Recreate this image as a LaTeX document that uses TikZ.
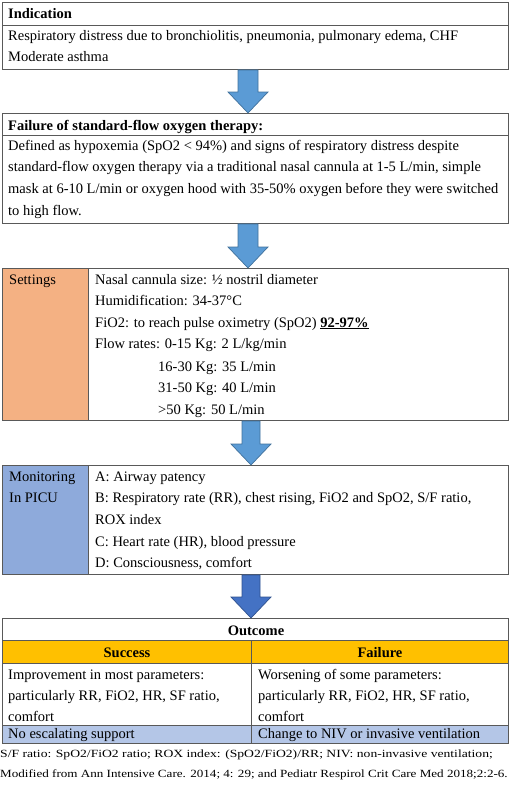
\documentclass[tikz,border=0pt]{standalone}
\usepackage{fontspec}
\usepackage{graphicx}
\setmainfont{Liberation Serif}
\usetikzlibrary{calc}
\definecolor{bordc}{HTML}{595959}
\definecolor{arrfill}{HTML}{5B9BD5}
\definecolor{arrdraw}{HTML}{41719C}
\definecolor{arrbfill}{HTML}{4472C4}
\definecolor{arrbdraw}{HTML}{2F528F}
\definecolor{orangec}{HTML}{F4B183}
\definecolor{monc}{HTML}{8EAADB}
\definecolor{yelc}{HTML}{FFC000}
\definecolor{lbluec}{HTML}{B4C6E7}
\newcommand\flowarrow[5]{% from, to, x centre, shaft half width, style
  \draw[#5] let \p1=(#1.south), \p2=(#2.north) in
    ({#3pt-#4pt},{\y1}) -- ({#3pt+#4pt},{\y1}) -- ({#3pt+#4pt},{\y2+21pt})
    -- ({#3pt+20pt},{\y2+21pt}) -- ({#3pt},{\y2}) -- ({#3pt-20pt},{\y2+21pt})
    -- ({#3pt-#4pt},{\y2+21pt}) -- cycle;}
\begin{document}
\begin{tikzpicture}[x=1pt,y=-1pt,
  frame/.style={draw=bordc, line width=0.9pt, inner sep=0, anchor=north west, minimum width=506pt},
  rule/.style={draw=bordc, line width=0.9pt},
  txt/.style={anchor=base west, inner sep=0, font=\fontsize{14.5}{21.6}\selectfont, align=left},
  ctxt/.style={anchor=base, inner sep=0, font=\fontsize{14.5}{21.6}\selectfont\bfseries},
  note/.style={anchor=base west, inner sep=0, font=\fontsize{11}{20}\selectfont},
  arrA/.style={fill=arrfill, draw=arrdraw, line width=0.7pt},
  arrB/.style={fill=arrbfill, draw=arrbdraw, line width=0.7pt}]
\useasboundingbox (0,0) rectangle (510,793);

% ---- Indication (multi-line nodes are placed by their last baseline)
\node[frame, minimum height=67pt] (ind) at (2,2) {};
\draw[rule] (2,25) -- (508,25);
\node[txt, font=\fontsize{14.5}{21.5}\selectfont\bfseries] (indh) at (8,18) {Indication};
\node[txt, font=\fontsize{14.5}{21.5}\selectfont] (indt) at (8,61.5) {Respiratory distress due to bronchiolitis, pneumonia, pulmonary edema, CHF\\Moderate asthma};

% ---- Failure
\node[frame, minimum height=110pt] (fail) at (2,113) {};
\draw[rule] (2,135) -- (508,135);
\node[txt, font=\fontsize{14.5}{21.6}\selectfont\bfseries] (failh) at (8,130) {Failure of standard-flow oxygen therapy:};
\node[txt, font=\fontsize{14.5}{21.8}\selectfont] (failt) at (8,215.4) {Defined as hypoxemia (SpO2 < 94\%) and signs of respiratory distress despite\\standard-flow oxygen therapy via a traditional nasal cannula at 1-5 L/min, simple\\mask at 6-10 L/min or oxygen hood with 35-50\% oxygen before they were switched\\to high flow.};

% ---- Settings
\fill[orangec] (2,268) rectangle (88,420);
\node[frame, minimum height=152pt] (set) at (2,268) {};
\draw[rule] (88,268) -- (88,420);
\node[txt] (setl) at (9,284) {Settings};
\node[txt, font=\fontsize{14.5}{21.5}\selectfont] (sett) at (95,348.5) {Nasal cannula size: ½ nostril diameter\\Humidification: 34-37°C\\FiO2: to reach pulse oximetry (SpO2) \textbf{\underline{92-97\%}}\\Flow rates: 0-15 Kg: 2 L/kg/min};
\node[txt, font=\fontsize{14.5}{21.5}\selectfont] (setf) at (158,414) {16-30 Kg: 35 L/min\\31-50 Kg: 40 L/min\\>50 Kg: 50 L/min};

% ---- Monitoring
\fill[monc] (2,465) rectangle (88,574);
\node[frame, minimum height=109pt] (mon) at (2,465) {};
\draw[rule] (88,465) -- (88,574);
\node[txt, font=\fontsize{14.5}{21.7}\selectfont] (monl) at (9,502.7) {Monitoring\\In PICU};
\node[txt, font=\fontsize{14.5}{21.7}\selectfont] (mont) at (95,567.8) {A: Airway patency\\B: Respiratory rate (RR), chest rising, FiO2 and SpO2, S/F ratio,\\ROX index\\C: Heart rate (HR), blood pressure\\D: Consciousness, comfort};

% ---- Outcome
\fill[yelc] (2,640) rectangle (508,663);
\fill[lbluec] (2,725) rectangle (508,743);
\node[frame, minimum height=125pt] (out) at (2,618) {};
\draw[rule] (2,640) -- (508,640);
\draw[rule] (2,663) -- (508,663);
\draw[rule] (2,725) -- (508,725);
\draw[rule] (251,640) -- (251,743);
\node[ctxt] (outh) at (256,635) {Outcome};
\node[ctxt] (succ) at (127,657) {Success};
\node[ctxt] (failr) at (380,657) {Failure};
\node[txt, font=\fontsize{14.5}{21}\selectfont] (succt) at (8,721) {Improvement in most parameters:\\particularly RR, FiO2, HR, SF ratio,\\comfort};
\node[txt, font=\fontsize{14.5}{21}\selectfont] (failt2) at (258,721) {Worsening of some parameters:\\particularly RR, FiO2, HR, SF ratio,\\comfort};
\node[txt] (succe) at (8,738.5) {No escalating support};
\node[txt] (faile) at (258,738.5) {Change to NIV or invasive ventilation};

% ---- Footnote
\node[note] (fn1) at (0,757) {\scalebox{1.24}[1]{S/F ratio: SpO2/FiO2 ratio; ROX index: (SpO2/FiO2)/RR; NIV: non-invasive ventilation;}};
\node[note] (fn2) at (0,777) {\scalebox{1.19}[1]{Modified from Ann Intensive Care. 2014; 4: 29; and Pediatr Respirol Crit Care Med 2018;2:2-6.}};

% ---- Arrows
\flowarrow{ind}{fail}{248}{10}{arrA}
\flowarrow{fail}{set}{248}{10}{arrA}
\flowarrow{set}{mon}{251}{9}{arrA}
\flowarrow{mon}{out}{251}{9}{arrB}
\end{tikzpicture}
\end{document}
